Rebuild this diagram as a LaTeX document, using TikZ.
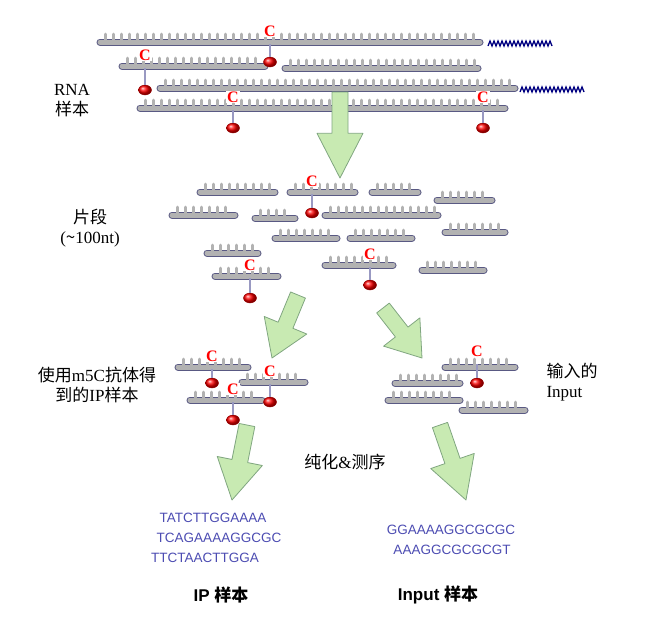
\documentclass[tikz,border=0pt]{standalone}
\usepackage{fontspec}
\setmainfont{Liberation Serif}
\newfontfamily\seqfont{Liberation Sans}
\newfontfamily\cjk{Noto Sans CJK SC}
\usetikzlibrary{calc,shapes.geometric}

\tikzset{
  barStyle/.style={line width=5pt, draw=gray!60, line cap=round},
  barEdge/.style={line width=7pt, draw=black!45!blue!30!gray, line cap=round},
  toothStyle/.style={line width=3pt, draw=gray!60, line cap=round},
  stemStyle/.style={line width=1.2pt, draw=black!60!blue!40},
  capStyle/.style={ellipse, minimum width=13pt, minimum height=10pt, inner sep=0pt,
        draw=red!60!black, shading=ball, ball color=red},
  cStyle/.style={fill=white, inner sep=1pt, text=red, font=\bfseries\fontsize{16}{16}\selectfont},
  bigArrow/.style={fill=green!45!olive!30, draw=green!30!black!50, line width=0.8pt, line join=round},
  label/.style={font=\fontsize{17}{20}\selectfont, align=center},
  seqStyle/.style={font=\seqfont\fontsize{13.5}{14}\selectfont, text=blue!40!gray},
  polyA/.style={draw=blue!50!black, line width=1.3pt}
}

% RNA strand with teeth
\newcommand{\strand}[3]{%
  \draw[barEdge] (#1,#3) -- (#2,#3);
  \pgfmathsetmacro\ta{#1+5}\pgfmathsetmacro\tb{#1+13}\pgfmathsetmacro\tc{#2-4}
  \foreach \t in {\ta,\tb,...,\tc} \draw[toothStyle] (\t,#3) -- (\t,#3-8);
  \draw[barStyle] (#1,#3) -- (#2,#3);}
% m5C modification: stem, cap, letter
\newcommand{\mfive}[4]{%
  \node[cStyle] (#4c) at (#1,#2-11) {C};
  \node[capStyle] (#4m) at (#1,#3) {};
  \draw[stemStyle] (#1,#2+2) -- (#4m);}
% fat green arrow between two coordinates
\newcommand{\fatArrow}[2]{%
  \coordinate (mid) at ($(#1)!0.48!(#2)$);
  \filldraw[bigArrow] ($(#1)!8pt!90:(#2)$) -- ($(mid)!8pt!90:(#2)$) -- ($(mid)!23pt!90:(#2)$)
     -- (#2) -- ($(mid)!23pt!-90:(#2)$) -- ($(mid)!8pt!-90:(#2)$) -- ($(#1)!8pt!-90:(#2)$) -- cycle;}
\newcommand{\polyA}[3]{%
  \draw[polyA] (#1,#3) \foreach \k in {1,...,16} { -- ++(2,-5) -- ++(2,5)};}

\begin{document}
\begin{tikzpicture}[x=1pt,y=-1pt]
\useasboundingbox (0,0) rectangle (654,625);

% RNA sample
\strand{100}{480}{42} \polyA{488}{552}{46}
\strand{122}{265}{66}
\strand{285}{478}{68}
\strand{160}{515}{88} \polyA{520}{582}{92}
\strand{140}{505}{108}
\mfive{270}{42}{62}{r1}
\mfive{145}{66}{90}{r2}
\mfive{233}{108}{128}{r3}
\mfive{483}{108}{128}{r4}
\node[label] (rna) at (72,101) {RNA\\{\cjk 样本}};

% fragments
\strand{200}{275}{192}
\strand{290}{355}{192}
\strand{372}{418}{192}
\strand{437}{492}{200}
\strand{172}{235}{215}
\strand{255}{295}{218}
\strand{325}{438}{215}
\strand{445}{505}{232}
\strand{275}{337}{238}
\strand{350}{412}{238}
\strand{207}{258}{253}
\strand{215}{278}{276}
\strand{325}{393}{265}
\strand{422}{484}{270}
\mfive{312}{192}{213}{f1}
\mfive{250}{276}{298}{f2}
\mfive{370}{265}{285}{f3}
\node[label] (frag) at (90,228) {{\cjk 片段}\\({\cjk\textasciitilde}100nt)};

% IP and input
\strand{178}{248}{367}
\strand{242}{305}{382}
\strand{190}{262}{400}
\mfive{212}{367}{383}{p1}
\mfive{270}{382}{402}{p2}
\mfive{233}{400}{420}{p3}
\strand{445}{515}{367}
\strand{395}{460}{383}
\strand{388}{460}{400}
\strand{462}{525}{410}
\mfive{477}{362}{383}{q1}
\node[label] (ip) at (97,385) {{\cjk 使用}m5C{\cjk 抗体得}\\{\cjk 到的}IP{\cjk 样本}};
\node[label, align=left] (inp) at (572,382) {{\cjk 输入的}\\Input};

% arrows
\coordinate (a1) at (340,92); \coordinate (b1) at (340,178);
\coordinate (a2) at (298,295); \coordinate (b2) at (272,358);
\coordinate (a3) at (383,308); \coordinate (b3) at (422,358);
\coordinate (a4) at (247,425); \coordinate (b4) at (232,500);
\coordinate (a5) at (440,425); \coordinate (b5) at (466,500);
\foreach \s/\e in {a1/b1,a2/b2,a3/b3,a4/b4,a5/b5} \fatArrow{\s}{\e};
\node[label] (pur) at (345,462) {{\cjk 纯化}\&{\cjk 测序}};

% sequences
\node[seqStyle] (s1) at (213,518) {TATCTTGGAAAA};
\node[seqStyle] (s2) at (219,538) {TCAGAAAAGGCGC};
\node[seqStyle] (s3) at (205,558) {TTCTAACTTGGA};
\node[seqStyle] (s4) at (451,530) {GGAAAAGGCGCGC};
\node[seqStyle] (s5) at (452,550) {AAAGGCGCGCGT};
\node[font=\seqfont\bfseries\fontsize{17}{18}\selectfont] (ipl) at (221,595) {IP {\cjk\bfseries 样本}};
\node[font=\seqfont\bfseries\fontsize{17}{18}\selectfont] (inl) at (438,595) {Input {\cjk\bfseries 样本}};
\end{tikzpicture}
\end{document}
